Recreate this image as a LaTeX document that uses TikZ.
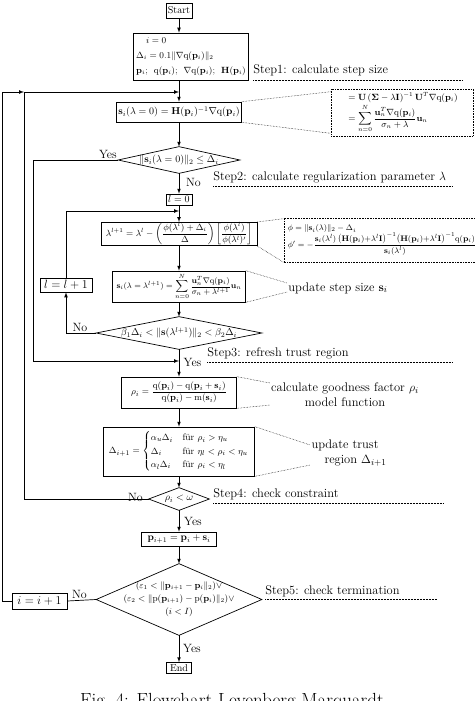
\documentclass[tikz,border=0pt]{standalone}
\usepackage{amsmath}
\usepackage{amssymb}
\usepackage{tikz}
\usetikzlibrary{shapes,arrows}

\begin{document}
\begin{tikzpicture}[x=1pt,y=-1pt,line width=0.7pt,>=latex,
  box/.style={draw,rectangle,inner sep=1pt,font=\fontsize{10}{12}\selectfont},
  decision/.style={rectangle,inner sep=0pt,align=center,font=\fontsize{10}{12}\selectfont},
  callout/.style={draw,densely dotted,line width=0.6pt,align=left,inner sep=1.5pt,font=\fontsize{8.5}{11}\selectfont},
  note/.style={font=\fontsize{12.5}{15}\selectfont,inner sep=1pt},
  steplabel/.style={font=\fontsize{12.5}{15}\selectfont,anchor=base west,inner sep=0pt},
  yesno/.style={font=\fontsize{12}{14}\selectfont,inner sep=0pt},
  guide/.style={densely dotted,line width=0.5pt}]
\useasboundingbox (0,0) rectangle (474,701);

%Shape: Rectangle [start]
\node[box,minimum width=26,minimum height=15] (start) at (179,10.5) {Start};
%Shape: Rectangle [init]
\node[box,minimum width=114,minimum height=47,inner sep=3pt,align=left,font=\fontsize{9}{15}\selectfont] (init) at (191,56.5)
  {\hspace*{10pt}$i=0$\\
   $\Delta_i = 0.1\|\nabla\mathrm{q}(\mathbf{p}_i)\|_2$\\
   $\mathbf{p}_i;\enspace \mathrm{q}(\mathbf{p}_i);\enspace \nabla\mathrm{q}(\mathbf{p}_i);\enspace \mathbf{H}(\mathbf{p}_i)$};
%Shape: Rectangle [step at lambda 0]
\node[box,minimum width=125,minimum height=20] (sZero) at (179,112)
  {$\mathbf{s}_i(\lambda=0) = \mathbf{H}(\mathbf{p}_i)^{-1}\nabla\mathrm{q}(\mathbf{p}_i)$};
\node[callout,minimum width=142,minimum height=47,font=\fontsize{9}{11}\selectfont] (svdBox) at (402,112.5)
  {\hspace*{2pt}$= \mathbf{U}\,(\mathbf{\Sigma}-\lambda\mathbf{I})^{-1}\,\mathbf{U}^T\nabla\mathrm{q}(\mathbf{p}_i)$\\[1pt]
   \hspace*{2pt}$= \displaystyle\sum_{n=0}^{N}\frac{\mathbf{u}_n^T\nabla\mathrm{q}(\mathbf{p}_i)}{\sigma_n+\lambda}\mathbf{u}_n$};
%Shape: Diamond [check step]
\node[decision,minimum width=121,minimum height=26] (chkZero) at (179,160)
  {$\|\mathbf{s}_i(\lambda=0)\|_2 \le \Delta_i$};
%Shape: Rectangle [l = 0]
\node[box,minimum width=26,minimum height=11] (lZero) at (179,199.5) {$l=0$};
%Shape: Rectangle [lambda update]
\node[box,minimum width=156,minimum height=22,inner sep=0.5pt,font=\fontsize{9}{11}\selectfont] (lamUpd) at (179,234)
  {$\lambda^{l+1} = \lambda^l - \left(\dfrac{\phi(\lambda^l)+\Delta_i}{\Delta}\right)\left[\dfrac{\phi(\lambda^l)}{\phi(\lambda^l)'}\right]$};
\node[callout,minimum width=185,minimum height=44,inner sep=1pt,font=\fontsize{8}{11}\selectfont] (phiBox) at (380.5,240)
  {\hspace*{3pt}$\phi = \|\mathbf{s}_i(\lambda)\|_2 - \Delta_i$\\[-1pt]
   \hspace*{3pt}$\phi' = -\dfrac{\mathbf{s}_i(\lambda^l)\,\big(\mathbf{H}(\mathbf{p}_i){+}\lambda^l\mathbf{I}\big)^{-1}\big(\mathbf{H}(\mathbf{p}_i){+}\lambda^l\mathbf{I}\big)^{-1}\mathrm{q}(\mathbf{p}_i)}{\mathbf{s}_i(\lambda^l)}$};
%Shape: Rectangle [step update]
\node[box,minimum width=133,minimum height=31,font=\fontsize{8.5}{10}\selectfont] (sUpd) at (179,286.5)
  {$\mathbf{s}_i(\lambda=\lambda^{l+1}) = \displaystyle\sum_{n=0}^{N}\frac{\mathbf{u}_n^T\nabla\mathrm{q}(\mathbf{p}_i)}{\sigma_n+\lambda^{l+1}}\mathbf{u}_n$};
%Shape: Rectangle [l = l+1]
\node[box,minimum width=52,minimum height=14,font=\fontsize{12}{14}\selectfont] (lInc) at (66,285) {$l=l+1$};
%Shape: Diamond [check trust]
\node[decision,minimum width=165,minimum height=32] (chkTrust) at (179,333)
  {$\beta_1\Delta_i < \|\mathbf{s}(\lambda^{l+1})\|_2 < \beta_2\Delta_i$};
%Shape: Rectangle [goodness]
\node[box,minimum width=115,minimum height=31,font=\fontsize{9.5}{11}\selectfont] (rho) at (179,392.5)
  {$\rho_i = \dfrac{\mathrm{q}(\mathbf{p}_i)-\mathrm{q}(\mathbf{p}_i+\mathbf{s}_i)}{\mathrm{q}(\mathbf{p}_i)-\mathrm{m}(\mathbf{s}_i)}$};
%Shape: Rectangle [trust update]
\node[box,minimum width=151,minimum height=49,font=\fontsize{9.5}{11}\selectfont] (deltaUpd) at (179,451.5)
  {$\Delta_{i+1} = \begin{cases}\alpha_u\Delta_i & \text{für } \rho_i > \eta_u\\ \Delta_i & \text{für } \eta_l < \rho_i < \eta_u\\ \alpha_l\Delta_i & \text{für } \rho_i < \eta_l\end{cases}$};
%Shape: Diamond [check constraint]
\node[decision,minimum width=60,minimum height=22] (chkRho) at (179,499) {$\rho_i < \omega$};
%Shape: Rectangle [new point]
\node[box,minimum width=75,minimum height=14] (pNext) at (179,539)
  {$\mathbf{p}_{i+1} = \mathbf{p}_i + \mathbf{s}_i$};
%Shape: Diamond [check end]
\node[decision,minimum width=165,minimum height=71,font=\fontsize{9}{13}\selectfont] (chkEnd) at (179,599.5)
  {$(\varepsilon_1 < \|\mathbf{p}_{i+1}-\mathbf{p}_i\|_2)\vee$\\
   $(\varepsilon_2 < \|\mathrm{p}(\mathbf{p}_{i+1})-\mathrm{p}(\mathbf{p}_i)\|_2)\vee$\\
   $(i<I)$};
%Shape: Rectangle [i = i+1]
\node[box,minimum width=55,minimum height=16,font=\fontsize{12}{14}\selectfont] (iInc) at (39.5,601) {$i=i+1$};
%Shape: Rectangle [end]
\node[box,minimum width=25,minimum height=11] (stop) at (179,668) {End};

\foreach \d in {chkZero,chkTrust,chkRho,chkEnd}
  \draw (\d.north) -- (\d.east) -- (\d.south) -- (\d.west) -- cycle;

%Straight Lines [main column]
\coordinate (joinA) at (179,92);
\coordinate (joinB) at (179,211);
\coordinate (joinC) at (179,361);
\coordinate (innerTop) at (24,92);
\coordinate (outerTop) at (2,92);
\coordinate (yesLeft) at (33,361);
\draw[->] (start.south) -- (start.south |- init.north);
\draw[->] (init.south -| sZero.north) -- (sZero.north);
\draw[->] (sZero) -- (chkZero);
\draw[->] (chkZero) -- (lZero);
\draw[->] (lZero) -- (lamUpd);
\draw[->] (lamUpd) -- (sUpd);
\draw[->] (sUpd) -- (chkTrust);
\draw[->] (chkTrust) -- (rho);
\draw[->] (rho) -- (deltaUpd);
\draw[->] (deltaUpd) -- (chkRho);
\draw[->] (chkRho) -- (pNext);
\draw[->] (pNext) -- (chkEnd);
\draw[->] (chkEnd) -- (stop);

%Straight Lines [loops]
\draw[->] (chkZero.west) -| (yesLeft) -- (joinC);
\draw[->] (lInc.north) |- (joinB);
\draw[->] (chkTrust.west) -| (lInc.south);
\draw[->] (chkRho.west) -| (innerTop) -- (joinA);
\draw (chkEnd.west) -- (iInc.east);
\draw[->] (iInc.west) -| (outerTop) -- (innerTop);

% Text Node [yes / no]
\node[yesno] (yA) at (108,154) {Yes};
\node[yesno] (nA) at (193.5,182) {No};
\node[yesno] (nB) at (80,327) {No};
\node[yesno] (yB) at (192.5,362) {Yes};
\node[yesno] (nC) at (135.5,497) {No};
\node[yesno] (yC) at (193,521) {Yes};
\node[yesno] (nD) at (79.5,594) {No};
\node[yesno] (yD) at (192,648) {Yes};

% Text Node [callouts]
\node[note] (updS) at (338,288) {update step size $\mathbf{s}_i$};
\node[note,align=center] (good) at (345,395) {calculate goodness factor $\rho_i$\\model function};
\node[note,align=left] (trust) at (349,453) {update trust\\\hspace*{13pt}region $\Delta_{i+1}$};
\draw[guide] (sZero.north east) -- ([yshift=-3]svdBox.north west);
\draw[guide] (sZero.south east) -- ([yshift=3]svdBox.south west);
\draw[guide] (lamUpd.north east) -- ([yshift=-1]phiBox.north west);
\draw[guide] (lamUpd.south east) -- (phiBox.south west);
\draw[guide] (sUpd.north east) -- ([yshift=5]updS.west);
\draw[guide] (sUpd.south east) -- ([yshift=-4]updS.west);
\draw[guide] (rho.north east) -- ([yshift=12]good.west);
\draw[guide] (rho.south east) -- ([yshift=-10]good.west);
\draw[guide] (deltaUpd.north east) -- ([yshift=8]trust.west);
\draw[guide] (deltaUpd.south east) -- ([yshift=-12]trust.west);

% Text Node [steps]
\node[steplabel] (stepA) at (253,74) {Step1: calculate step size};
\node[steplabel] (stepB) at (213,180) {Step2: calculate regularization parameter $\lambda$};
\node[steplabel] (stepC) at (207,356) {Step3: refresh trust region};
\node[steplabel] (stepD) at (213,497) {Step4: check constraint};
\node[steplabel] (stepE) at (265,594) {Step5: check termination};
\draw[guide] ([yshift=-6]stepA.base west) -- ++(209,0);
\draw[guide] ([yshift=-6]stepB.base west) -- ++(239,0);
\draw[guide] ([yshift=-6]stepC.base west) -- ++(245,0);
\draw[guide] ([yshift=-6]stepD.base west) -- ++(230,0);
\draw[guide] ([yshift=-5]stepE.base west) -- ++(172,0);

% Text Node [caption]
\node[font=\fontsize{19}{22}\selectfont,anchor=base,inner sep=0pt] (caption) at (232,706) {Fig.~4: Flowchart Levenberg-Marquardt};

\end{tikzpicture}
\end{document}
